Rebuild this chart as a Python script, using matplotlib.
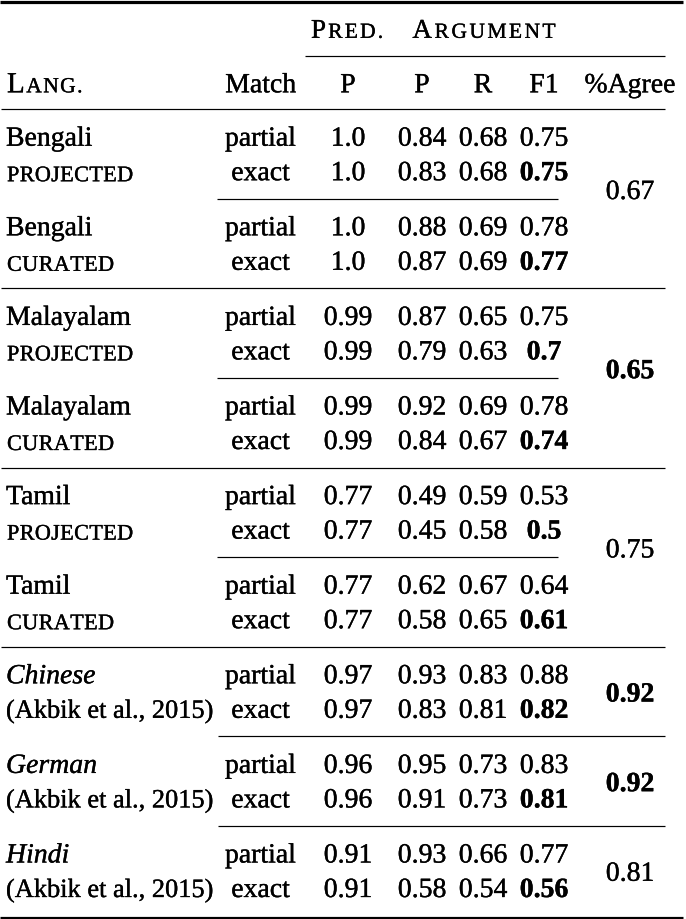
import matplotlib
matplotlib.use('Agg')
import matplotlib.pyplot as plt
import matplotlib.patheffects as pe

# ---------------- data ----------------
langs = ['Bengali', 'Bengali', 'Malayalam', 'Malayalam', 'Tamil', 'Tamil',
         'Chinese', 'German', 'Hindi']
subs = ['PROJECTED', 'CURATED', 'PROJECTED', 'CURATED', 'PROJECTED', 'CURATED',
        '(Akbik et al., 2015)', '(Akbik et al., 2015)', '(Akbik et al., 2015)']
italic_lang = [False] * 6 + [True] * 3
smallcap_sub = [True] * 6 + [False] * 3
match_types = ['partial', 'exact']

pred_p_partial = [1.0, 1.0, 0.99, 0.99, 0.77, 0.77, 0.97, 0.96, 0.91]
pred_p_exact = [1.0, 1.0, 0.99, 0.99, 0.77, 0.77, 0.97, 0.96, 0.91]
arg_p_partial = [0.84, 0.88, 0.87, 0.92, 0.49, 0.62, 0.93, 0.95, 0.93]
arg_p_exact = [0.83, 0.87, 0.79, 0.84, 0.45, 0.58, 0.83, 0.91, 0.58]
arg_r_partial = [0.68, 0.69, 0.65, 0.69, 0.59, 0.67, 0.83, 0.73, 0.66]
arg_r_exact = [0.68, 0.69, 0.63, 0.67, 0.58, 0.65, 0.81, 0.73, 0.54]
f1_partial = [0.75, 0.78, 0.75, 0.78, 0.53, 0.64, 0.88, 0.83, 0.77]
f1_exact = [0.75, 0.77, 0.7, 0.74, 0.5, 0.61, 0.82, 0.81, 0.56]

agree = [0.67, 0.65, 0.75, 0.92, 0.92, 0.81]
agree_bold = [False, True, False, True, True, False]
agree_span = [2, 2, 2, 1, 1, 1]   # number of datasets each agreement value spans

# ---------------- figure ----------------
W, H = 686, 920
fig = plt.figure(figsize=(W / 100, H / 100), dpi=100)
ax = fig.add_axes([0, 0, 1, 1])
ax.set_xlim(0, W)
ax.set_ylim(H, 0)
ax.axis('off')

FONT = 'Liberation Serif'
FS = 20
SC = 16
HSC = 15.5
renderer = fig.canvas.get_renderer()
HEAVY = [pe.withStroke(linewidth=0.25, foreground='black')]


def txt(x, y, s, ha='center', size=FS, weight='normal', style='normal'):
    return ax.text(x, y, s, ha=ha, va='baseline', fontsize=size, family=FONT,
                   fontweight=weight, fontstyle=style, color='black',
                   path_effects=HEAVY)


def tracked_text(x, y, pieces, ha='left', track=0.0):
    """pieces: list of (string, size); each character drawn with extra tracking."""
    chars = [(c, size) for s, size in pieces for c in s]
    objs = []
    cx = 0.0
    for i, (c, size) in enumerate(chars):
        t = ax.text(0, y, c, ha='left', va='baseline', fontsize=size, family=FONT,
                    path_effects=HEAVY)
        w = t.get_window_extent(renderer).width
        objs.append((t, cx))
        cx += w + (track if i < len(chars) - 1 else 0)
    x0 = x - cx / 2 if ha == 'center' else x
    for t, off in objs:
        t.set_x(x0 + off)


def smallcaps(word, big=19.5, small=HSC):
    return [(word[0], big), (word[1:].upper(), small)]


# column positions (pixels)
X_LANG = 6
X_MATCH = 260.5
X_PP = 348
X_AP = 422
X_AR = 483
X_F1 = 544
X_AG = 630

# header
Y_H1 = 38.8
Y_H2 = 93.3
tracked_text(X_PP - 1, Y_H1, smallcaps('Pred.'), ha='center', track=2.2)
tracked_text(X_AR + 1, Y_H1, smallcaps('Argument'), ha='center', track=2.5)
tracked_text(X_LANG + 1, Y_H2, smallcaps('Lang.', big=21, small=15.5), ha='left', track=1.5)
txt(X_MATCH, Y_H2, 'Match')
txt(X_PP, Y_H2, 'P')
txt(X_AP, Y_H2, 'P')
txt(X_AR, Y_H2, 'R')
txt(X_F1, Y_H2, 'F1')
txt(X_AG, Y_H2, '%Agree')

# rows
Y0 = 146.7
DY_GROUP = 89.6
DY_ROW = 34.5

for k in range(len(langs)):
    y1 = Y0 + DY_GROUP * k
    y2 = y1 + DY_ROW
    txt(X_LANG, y1, langs[k], ha='left', style='italic' if italic_lang[k] else 'normal')
    if smallcap_sub[k]:
        tracked_text(X_LANG + 1, y2 + 1, [(subs[k], SC)], ha='left', track=0.3)
    else:
        txt(X_LANG, y2, subs[k], ha='left', size=19)
    txt(X_MATCH, y1, match_types[0])
    txt(X_MATCH, y2, match_types[1])
    txt(X_PP, y1, str(pred_p_partial[k]))
    txt(X_PP, y2, str(pred_p_exact[k]))
    txt(X_AP, y1, str(arg_p_partial[k]))
    txt(X_AP, y2, str(arg_p_exact[k]))
    txt(X_AR, y1, str(arg_r_partial[k]))
    txt(X_AR, y2, str(arg_r_exact[k]))
    txt(X_F1, y1, str(f1_partial[k]))
    txt(X_F1, y2, str(f1_exact[k]), weight='bold')

# agreement column
k = 0
for val, bold, span in zip(agree, agree_bold, agree_span):
    y1 = Y0 + DY_GROUP * k
    if span == 2:
        y = y1 + 53.3
    else:
        y = y1 + DY_ROW / 2 + 1
    txt(X_AG, y, str(val), weight='bold' if bold else 'normal')
    k += span

# rules
PX = 0.72  # 1 px in points
def rule(y, x0, x1, px=1.2):
    ax.plot([x0, x1], [y, y], color='black', lw=px * PX, solid_capstyle='butt')

rule(2.5, 0, 683, px=3.2)
rule(57, 305, 665)
rule(110, 1, 665)
for k in range(len(langs) - 1):
    y = Y0 + DY_GROUP * k + 53
    if k in (0, 2, 4):
        rule(y, 217, 558)
    elif k in (1, 3, 5):
        rule(y, 1, 665)
    else:
        rule(y, 218, 665)
rule(918.5, 0, 683, px=3.2)

fig.savefig('out.png', dpi=100)
